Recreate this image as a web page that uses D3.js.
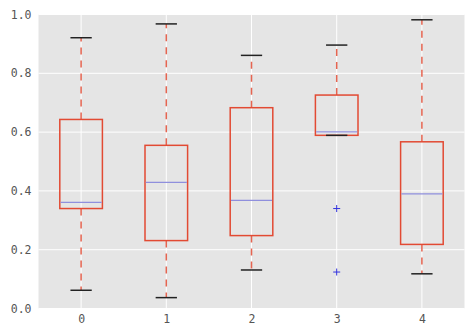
<!DOCTYPE html>
<html><head><meta charset="utf-8">
<script src="https://cdn.jsdelivr.net/npm/d3@7"></script>
<style>body{margin:0;background:#fff}svg{display:block}</style>
</head><body>
<script>
const categories = ["0","1","2","3","4"];
const whiskLow  = [0.062, 0.037, 0.131, 0.589, 0.118];
const q1        = [0.340, 0.231, 0.248, 0.589, 0.218];
const medians   = [0.361, 0.429, 0.368, 0.601, 0.390];
const q3        = [0.643, 0.555, 0.683, 0.726, 0.567];
const whiskHigh = [0.921, 0.968, 0.861, 0.896, 0.982];
const fliers    = [[], [], [], [0.340, 0.124], []];
const yTicks    = [0.0, 0.2, 0.4, 0.6, 0.8, 1.0];

const W = 474, H = 336;
const m = {left: 38.5, right: 9.5, top: 14.5, bottom: 27.5};
const svg = d3.select("body").append("svg").attr("width", W).attr("height", H);

const x = d3.scaleLinear().domain([0.5, 5.5]).range([m.left, W - m.right]);
const y = d3.scaleLinear().domain([0, 1]).range([H - m.bottom, m.top]);

svg.append("rect").attr("x", m.left).attr("y", m.top)
  .attr("width", W - m.right - m.left).attr("height", H - m.bottom - m.top)
  .attr("fill", "#E5E5E5");

const g = svg.append("g");
g.selectAll(".hg").data(yTicks).join("line")
  .attr("x1", m.left).attr("x2", W - m.right)
  .attr("y1", d => y(d)).attr("y2", d => y(d))
  .attr("stroke", "#fff").attr("stroke-width", 1);
g.selectAll(".vg").data(categories).join("line")
  .attr("x1", (d, i) => x(i + 1)).attr("x2", (d, i) => x(i + 1))
  .attr("y1", m.top).attr("y2", H - m.bottom)
  .attr("stroke", "#fff").attr("stroke-width", 1);

const yAxis = d3.axisLeft(y).tickValues(yTicks).tickFormat(d3.format(".1f")).tickSize(0).tickPadding(7);
const xAxis = d3.axisBottom(x).tickValues(categories.map((d, i) => i + 1)).tickFormat((d, i) => categories[i]).tickSize(0).tickPadding(6);
const ya = svg.append("g").attr("transform", `translate(${m.left},0)`).call(yAxis);
const xa = svg.append("g").attr("transform", `translate(0,${H - m.bottom})`).call(xAxis);
[ya, xa].forEach(a => {
  a.select(".domain").remove();
  a.selectAll("text").attr("fill", "#555").style("font-family", "DejaVu Sans Mono, monospace").style("font-size", "11.5px");
});

const red = "#E24A33";
const bw = (x(1.25) - x(0.75));
const cw = (x(1.125) - x(0.875));
const boxes = svg.append("g");
categories.forEach((c, i) => {
  const cx = x(i + 1);
  boxes.append("line").attr("x1", cx).attr("x2", cx).attr("y1", y(q3[i])).attr("y2", y(whiskHigh[i]))
    .attr("stroke", red).attr("stroke-opacity", 0.85).attr("stroke-width", 1.5).attr("stroke-dasharray", "7,6");
  boxes.append("line").attr("x1", cx).attr("x2", cx).attr("y1", y(q1[i])).attr("y2", y(whiskLow[i]))
    .attr("stroke", red).attr("stroke-opacity", 0.85).attr("stroke-width", 1.5).attr("stroke-dasharray", "7,6");
  boxes.append("rect").attr("x", cx - bw / 2).attr("width", bw)
    .attr("y", y(q3[i])).attr("height", y(q1[i]) - y(q3[i]))
    .attr("fill", "none").attr("stroke", red).attr("stroke-width", 1.5);
  [whiskLow[i], whiskHigh[i]].forEach(v => {
    boxes.append("line").attr("x1", cx - cw / 2).attr("x2", cx + cw / 2)
      .attr("y1", y(v)).attr("y2", y(v)).attr("stroke", "#222").attr("stroke-width", 1.5);
  });
  boxes.append("line").attr("x1", cx - bw / 2 + 0.75).attr("x2", cx + bw / 2 - 0.75)
    .attr("y1", y(medians[i])).attr("y2", y(medians[i])).attr("stroke", "#8F8FDD").attr("stroke-width", 1.2);
  fliers[i].forEach(v => {
    const py = y(v), s = 3.5;
    boxes.append("path").attr("d", `M${cx - s},${py}H${cx + s}M${cx},${py - s}V${py + s}`)
      .attr("stroke", "#3333DD").attr("stroke-width", 1).attr("fill", "none");
  });
});
</script>
</body></html>
